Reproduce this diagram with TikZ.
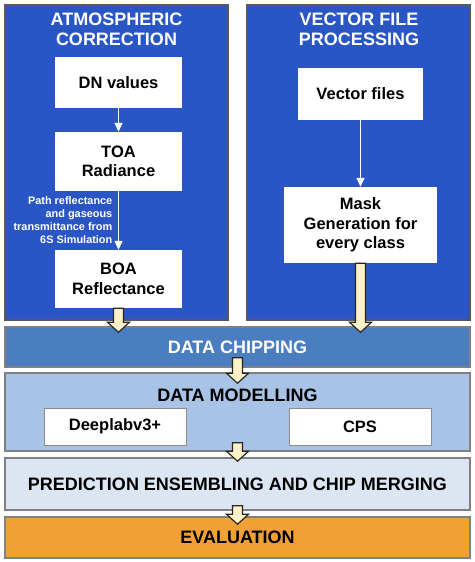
\documentclass[tikz,border=0pt]{standalone}
\usepackage{fontspec}
\setmainfont{Liberation Sans}
\usetikzlibrary{arrows.meta, calc}
\definecolor{panelblue}{HTML}{2A55C5}
\definecolor{chipblue}{HTML}{4A7EC0}
\definecolor{modelblue}{HTML}{A8C3E5}
\definecolor{predblue}{HTML}{DCE6F2}
\definecolor{evalorange}{HTML}{F0A035}
\definecolor{cream}{HTML}{FDF1C7}

\begin{document}
\begin{tikzpicture}[x=1pt, y=-1pt,
    panel/.style={rectangle, draw=black!65, line width=1.2pt, fill=panelblue, minimum width=223pt, minimum height=315pt, inner sep=0},
    paneltitle/.style={align=center, text=white, font=\fontsize{18}{19.5}\selectfont\bfseries},
    box/.style={rectangle, fill=white, align=center, inner sep=0, font=\fontsize{16.5}{19.5}\selectfont\bfseries},
    bar/.style={rectangle, draw=black!50, line width=1.5pt, minimum width=465pt, inner sep=0, font=\fontsize{18}{20}\selectfont\bfseries},
    whitearrow/.style={draw=white, line width=1.4pt, -{Triangle[length=9pt, width=8pt]}},
    note/.style={align=right, text=white, font=\fontsize{10.9}{13}\selectfont\bfseries},
    fat/.style={draw=black!85, fill=cream, line width=1.2pt, to path={let \p1=(\tikztostart), \p2=(\tikztotarget) in (\x1-5pt,\y1) -- (\x1-5pt,\y2+10pt) -- (\x1-11pt,\y2+10pt) -- (\x1,\y2) -- (\x1+11pt,\y2+10pt) -- (\x1+5pt,\y2+10pt) -- (\x1+5pt,\y1) -- cycle}}
]
\useasboundingbox (0,0) rectangle (474,562);

% panels
\node[panel] (atmo) at (116.5,162.5) {};
\node[panel] (vec) at (358.5,162.5) {};
\node[paneltitle] (atmotitle) at (116.5,29.5) {ATMOSPHERIC\\CORRECTION};
\node[paneltitle] (vectitle) at (359,29.5) {VECTOR FILE\\PROCESSING};

% atmospheric correction
\node[box, minimum width=127pt, minimum height=51pt] (dn) at (118.5,82.5) {DN values};
\node[box, minimum width=127pt, minimum height=59pt] (toa) at (118.5,161.5) {TOA\\Radiance};
\node[box, minimum width=127pt, minimum height=58pt] (boa) at (118.5,279) {BOA\\Reflectance};

% vector file processing
\node[box, minimum width=125pt, minimum height=52pt] (vecf) at (360.5,94) {Vector files};
\node[box, minimum width=153pt, minimum height=76pt] (mask) at (360.5,225) {Mask\\Generation for\\every class};

% bars
\node[bar, fill=chipblue, text=white, minimum height=40pt] (chip) at (237.5,347) {DATA CHIPPING};
\node[bar, fill=modelblue, minimum height=78pt] (modl) at (237.5,412) {};
\node[paneltitle, text=black] (modltitle) at (237.5,395) {DATA MODELLING};
\node[box, draw=black!45, line width=1pt, minimum width=142pt, minimum height=37pt] (deeplab) at (115,426.5) {Deeplabv3+};
\node[box, draw=black!45, line width=1pt, minimum width=142pt, minimum height=37pt] (cps) at (360,426.5) {CPS};
\node[bar, fill=predblue, minimum height=52pt] (pred) at (237.5,484) {PREDICTION ENSEMBLING AND CHIP MERGING};
\node[bar, fill=evalorange, minimum height=41pt] (eval) at (237.5,537.5) {EVALUATION};

% thin arrows
\draw[whitearrow] (dn) -- (toa);
\draw[whitearrow] (toa) -- (boa) node[note, midway, left, inner xsep=5.5pt] {Path reflectance\\and gaseous\\transmittance from\\6S Simulation};
\draw[whitearrow] (vecf) -- (mask);

% block arrows
\draw[fat] (boa.south) to ([yshift=-6pt]chip.north);
\draw[fat] (mask.south) to ([yshift=-6pt]chip.north);
\draw[fat] ([yshift=10pt]chip.south) to ([yshift=-11pt]modl.north);
\draw[fat] ([yshift=9pt]modl.south) to ([yshift=-4pt]pred.north);
\draw[fat] ([yshift=5pt]pred.south) to ([yshift=-8pt]eval.north);
\end{tikzpicture}
\end{document}
